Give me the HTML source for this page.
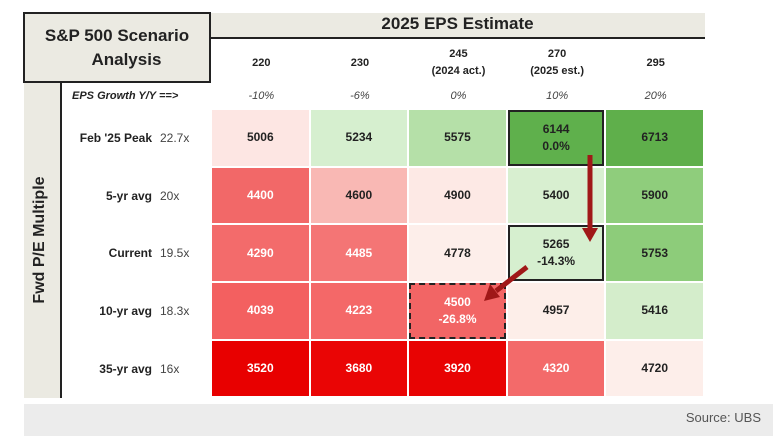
<!DOCTYPE html>
<html><head><meta charset="utf-8"><style>
body{margin:0;width:773px;height:436px;background:#fff;position:relative;overflow:hidden;font-family:"Liberation Sans",sans-serif}
.a{position:absolute;box-sizing:border-box}
.c{display:flex;align-items:center;justify-content:center;text-align:center;font-weight:bold;font-size:12px;flex-direction:column;line-height:17px}
.rl{font-weight:bold;font-size:12px;color:#222;text-align:right}
.pe{font-size:12px;color:#444}
</style></head><body>
<div class="a" style="left:210px;top:13px;width:495px;height:26px;background:#ebeae2;border-bottom:2px solid #222"></div>
<div class="a" style="left:210px;top:14px;width:495px;text-align:center;font-size:17px;font-weight:bold;color:#222">2025 EPS Estimate</div>
<div class="a" style="left:23px;top:12px;width:188px;height:71px;background:#ebeae2;border:2px solid #222;text-align:center;font-size:17px;font-weight:bold;color:#222;line-height:24px;padding-top:10px">S&amp;P 500 Scenario<br>&nbsp;&nbsp;&nbsp;&nbsp;Analysis</div>
<div class="a" style="left:24px;top:83px;width:38px;height:315px;background:#ebeae2;border-right:2px solid #222"></div>
<div class="a" style="left:-40px;top:228px;width:166px;height:24px;transform:rotate(-90deg);text-align:center;font-size:16px;font-weight:bold;color:#222">Fwd P/E Multiple</div>
<div class="a" style="left:72px;top:90px;font-size:11px;font-weight:bold;font-style:italic;color:#222">EPS Growth Y/Y ==&gt;</div>
<div class="a" style="left:24px;top:404px;width:749px;height:32px;background:#ececec"></div>
<div class="a" style="right:12px;top:410px;font-size:13px;color:#555">Source: UBS</div>
<div id="g"></div>
<svg class="a" style="left:0;top:0" width="773" height="436">
<line x1="590" y1="155" x2="590" y2="230" stroke="#a01818" stroke-width="5"/>
<polygon points="582,228 598,228 590,242" fill="#a01818"/>
<line x1="527" y1="267" x2="496" y2="291" stroke="#a01818" stroke-width="5"/>
<polygon points="490,284 500,297 484,301" fill="#a01818"/>
</svg>
<script>
const epsCols=["220","230","245","270","295"];
const epsSub=["","","(2024 act.)","(2025 est.)",""];
const growth=["-10%","-6%","0%","10%","20%"];
const rowNames=["Feb '25 Peak","5-yr avg","Current","10-yr avg","35-yr avg"];
const peMult=["22.7x","20x","19.5x","18.3x","16x"];
const values=[[5006,5234,5575,6144,6713],[4400,4600,4900,5400,5900],[4290,4485,4778,5265,5753],[4039,4223,4500,4957,5416],[3520,3680,3920,4320,4720]];
const colors=[["#fde6e3","#d6efcf","#b5e0a8","#5fb04c","#5faf4b"],["#f26868","#f9b8b4","#fde9e5","#d8efd0","#8fcd7c"],["#f36b6b","#f47575","#fdeeea","#d6efcf","#8dcc7a"],["#f36060","#f46868","#f26565","#fdeee9","#d4edcb"],["#e80000","#ea0505","#e80303","#f36a6a","#fdeeea"]];
const notes={"0,3":"0.0%","2,3":"-14.3%","3,2":"-26.8%"};
const g=document.getElementById('g');
const X0=212,CW=98.6,Y0=110,RH=57.7;
function cx(i){return X0+i*CW}
function ry(j){return Y0+j*RH}
epsCols.forEach((c,i)=>{
 const d=document.createElement('div');d.className='a c';
 
 
 d.style.cssText=`left:${cx(i)}px;top:44px;width:${CW}px;height:38px;font-size:11px;color:#222`;
 d.innerHTML=c+(epsSub[i]?'<br>'+epsSub[i]:'');g.appendChild(d);
 const e=document.createElement('div');e.className='a';
 
 
 e.style.cssText=`left:${cx(i)}px;top:90px;width:${CW}px;text-align:center;font-size:11px;font-style:italic;color:#444`;
 e.textContent=growth[i];g.appendChild(e);
});
rowNames.forEach((r,j)=>{
 const l=document.createElement('div');l.className='a rl';
 
 
 l.style.cssText=`left:60px;width:92px;top:${ry(j)+RH/2-8}px`;l.textContent=r;g.appendChild(l);
 const p=document.createElement('div');p.className='a pe';
 
 
 p.style.cssText=`left:160px;top:${ry(j)+RH/2-8}px`;p.textContent=peMult[j];g.appendChild(p);
 values[j].forEach((v,i)=>{
  const c=document.createElement('div');c.className='a c';
  
  
  const col=colors[j][i];const red=/^#(e8|ea|f2|f3|f4)/.test(col);
  let b='';const k=j+','+i;
  if(k==='0,3'||k==='2,3')b='border:2px solid #222;';
  if(k==='3,2')b='border:2px dashed #222;';
  c.style.cssText=`left:${cx(i)}px;top:${ry(j)}px;width:${CW-2}px;height:${RH-2}px;background:${col};color:${red?'#fff':'#222'};${b}`;
  c.innerHTML=v+(notes[k]?'<span>'+notes[k]+'</span>':'');g.appendChild(c);
 });
});
</script>
</body></html>
